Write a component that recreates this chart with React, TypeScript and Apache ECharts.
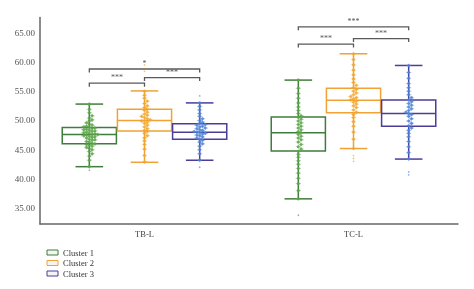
import React, { useEffect, useRef } from "react";
import * as echarts from "echarts";

const categories = ["TB-L", "TC-L"];
const clusterNames = ["Cluster 1", "Cluster 2", "Cluster 3"];
const boxColors = ["#3f7d3c", "#f0a236", "#4a3d9c"];
const pointColors = ["#5aa447", "#f3a52c", "#4d82d6"];

// [min, Q1, median, Q3, max] per category
const cluster1Box = [[42.1, 46.0, 47.6, 48.8, 52.8], [36.6, 44.8, 47.9, 50.6, 56.9]];
const cluster2Box = [[42.85, 48.2, 50.0, 51.9, 55.05], [45.2, 51.3, 53.45, 55.5, 61.4]];
const cluster3Box = [[43.2, 46.8, 48.0, 49.45, 53.0], [43.4, 49.0, 51.2, 53.5, 59.4]];

const cluster1Outliers = [[41.5], [33.8]];
const cluster2Outliers = [[58.4, 59.5], [44.0, 43.5, 43.0]];
const cluster3Outliers = [[54.2, 54.5, 42.0], [41.8, 41.2, 40.7]];

const cluster1Points = [
  [42.1, 43.2, 43.9, 44.3, 44.7, 45.0, 45.2, 45.4, 45.6, 45.8, 45.9, 46.0, 46.1, 46.3, 46.4, 46.6, 46.7, 46.8, 47.0, 47.1, 47.2, 47.3, 47.4, 47.5, 47.6, 47.6, 47.7, 47.8, 47.9, 48.0, 48.1, 48.2, 48.3, 48.4, 48.5, 48.6, 48.7, 48.8, 48.9, 49.0, 49.2, 49.4, 49.6, 49.9, 50.1, 50.4, 50.8, 51.3, 51.9, 52.8],
  [36.6, 38.0, 39.2, 40.1, 41.0, 41.8, 42.5, 43.1, 43.7, 44.2, 44.7, 45.1, 45.5, 45.9, 46.3, 46.7, 47.0, 47.3, 47.6, 47.9, 48.1, 48.4, 48.7, 49.0, 49.3, 49.6, 49.9, 50.2, 50.5, 50.8, 51.2, 51.7, 52.3, 53.0, 53.8, 54.6, 55.5, 56.9],
];
const cluster2Points = [
  [42.9, 44.0, 45.1, 45.9, 46.5, 47.0, 47.4, 47.8, 48.1, 48.3, 48.6, 48.9, 49.2, 49.5, 49.7, 49.9, 50.0, 50.1, 50.3, 50.5, 50.7, 50.9, 51.1, 51.4, 51.7, 51.9, 52.2, 52.5, 52.9, 53.3, 53.8, 54.3, 55.0],
  [45.2, 46.8, 48.0, 49.0, 49.8, 50.5, 51.0, 51.4, 51.8, 52.2, 52.5, 52.8, 53.1, 53.3, 53.5, 53.7, 53.9, 54.1, 54.4, 54.7, 55.0, 55.3, 55.6, 56.0, 56.5, 57.1, 57.8, 58.6, 59.5, 60.4, 61.4],
];
const cluster3Points = [
  [43.2, 44.3, 45.0, 45.6, 46.0, 46.3, 46.6, 46.8, 47.0, 47.2, 47.4, 47.5, 47.7, 47.8, 47.9, 48.0, 48.1, 48.3, 48.4, 48.6, 48.7, 48.9, 49.0, 49.2, 49.3, 49.5, 49.7, 50.0, 50.3, 50.7, 51.2, 51.8, 52.4, 53.0],
  [43.4, 44.5, 45.5, 46.4, 47.2, 47.8, 48.3, 48.7, 49.1, 49.5, 49.9, 50.3, 50.7, 51.0, 51.2, 51.4, 51.7, 52.0, 52.3, 52.6, 52.9, 53.2, 53.5, 53.9, 54.4, 55.0, 55.6, 56.3, 57.2, 58.2, 59.4],
];

const bracketCategory = [0, 0, 0, 1, 1, 1];
const bracketFrom = [0, 1, 0, 0, 1, 0];
const bracketTo = [1, 2, 2, 1, 2, 2];
const bracketY = [56.37, 57.33, 58.8, 63.05, 64.0, 66.0];
const bracketLabel = ["***", "***", "*", "***", "***", "***"];

const yTicks = [35, 40, 45, 50, 55, 60, 65];

const BOX_FRAC = 0.264;

function swarmSlots(values: number[]): number[] {
  const order = values.map((v, i) => i).sort((a, b) => values[a] - values[b]);
  const slots = new Array(values.length).fill(0);
  const placed: { v: number; k: number }[] = [];
  const cand = [0, 1, -1, 2, -2, 3, -3, 4, -4, 5, -5];
  for (const i of order) {
    const v = values[i];
    for (const k of cand) {
      if (!placed.some((p) => p.k === k && Math.abs(p.v - v) < 0.5)) {
        slots[i] = k;
        placed.push({ v, k });
        break;
      }
    }
  }
  return slots;
}

export default function App() {
  const ref = useRef<HTMLDivElement>(null);
  useEffect(() => {
    if (!ref.current) return;
    const chart = echarts.init(ref.current, undefined, { renderer: "svg" });
    const boxes = [cluster1Box, cluster2Box, cluster3Box];
    const outs = [cluster1Outliers, cluster2Outliers, cluster3Outliers];
    const pts = [cluster1Points, cluster2Points, cluster3Points];

    const centerX = (api: any, cat: number, ci: number) => {
      const cx0 = api.coord([cat, 50])[0];
      const band = api.size([1, 0])[0];
      return cx0 + (ci - 1) * band * BOX_FRAC;
    };

    const series: any[] = [];
    boxes.forEach((b, ci) => {
      series.push({
        name: clusterNames[ci],
        type: "custom",
        itemStyle: { color: boxColors[ci] },
        encode: { x: 0, y: [1, 2, 3, 4, 5] },
        data: b.map((s, cat) => [cat, ...s]),
        z: 2,
        renderItem: (params: any, api: any) => {
          const cat = api.value(0);
          const cx = centerX(api, cat, ci);
          const band = api.size([1, 0])[0];
          const half = (band * BOX_FRAC) / 2 - 0.5;
          const cap = (band * BOX_FRAC) / 4;
          const y = (v: number) => api.coord([cat, v])[1];
          const yMin = y(api.value(1));
          const yQ1 = y(api.value(2));
          const yMed = y(api.value(3));
          const yQ3 = y(api.value(4));
          const yMax = y(api.value(5));
          const st = { stroke: boxColors[ci], lineWidth: 1.5, fill: null };
          return {
            type: "group",
            children: [
              { type: "line", shape: { x1: cx, y1: yMax, x2: cx, y2: yQ3 }, style: st },
              { type: "line", shape: { x1: cx, y1: yQ1, x2: cx, y2: yMin }, style: st },
              { type: "line", shape: { x1: cx - cap, y1: yMax, x2: cx + cap, y2: yMax }, style: st },
              { type: "line", shape: { x1: cx - cap, y1: yMin, x2: cx + cap, y2: yMin }, style: st },
              { type: "rect", shape: { x: cx - half, y: yQ3, width: half * 2, height: yQ1 - yQ3 }, style: { stroke: boxColors[ci], lineWidth: 1.5, fill: "none" } },
              { type: "line", shape: { x1: cx - half, y1: yMed, x2: cx + half, y2: yMed }, style: st },
            ],
          };
        },
      });
    });

    pts.forEach((p, ci) => {
      const data: number[][] = [];
      p.forEach((vals, cat) => {
        const slots = swarmSlots(vals);
        vals.forEach((v, i) => data.push([cat, v, slots[i]]));
      });
      series.push({
        name: clusterNames[ci] + " points",
        type: "custom",
        encode: { x: 0, y: 1 },
        data,
        z: 3,
        renderItem: (params: any, api: any) => {
          const cat = api.value(0);
          const cx = centerX(api, cat, ci) + api.value(2) * 2.8;
          const cy = api.coord([cat, api.value(1)])[1];
          return {
            type: "group",
            children: [
              { type: "line", shape: { x1: cx - 2.6, y1: cy, x2: cx + 2.6, y2: cy }, style: { stroke: pointColors[ci], lineWidth: 0.8, opacity: 0.6 } },
              { type: "line", shape: { x1: cx, y1: cy - 2, x2: cx, y2: cy + 2 }, style: { stroke: pointColors[ci], lineWidth: 0.6, opacity: 0.5 } },
              { type: "circle", shape: { cx, cy, r: 1.5 }, style: { fill: pointColors[ci], opacity: 0.8 } },
            ],
          };
        },
      });
    });

    outs.forEach((o, ci) => {
      const data: number[][] = [];
      o.forEach((vals, cat) => vals.forEach((v) => data.push([cat, v])));
      series.push({
        name: clusterNames[ci] + " outliers",
        type: "custom",
        encode: { x: 0, y: 1 },
        data,
        z: 3,
        renderItem: (params: any, api: any) => {
          const cat = api.value(0);
          const cx = centerX(api, cat, ci);
          const cy = api.coord([cat, api.value(1)])[1];
          return { type: "circle", shape: { cx, cy, r: 0.8 }, style: { fill: pointColors[ci], opacity: 0.7 } };
        },
      });
    });

    series.push({
      name: "brackets",
      type: "custom",
      encode: { x: 0, y: 3 },
      data: bracketY.map((yv, i) => [bracketCategory[i], bracketFrom[i], bracketTo[i], yv]),
      z: 4,
      renderItem: (params: any, api: any) => {
        const cat = api.value(0);
        const x1 = centerX(api, cat, api.value(1));
        const x2 = centerX(api, cat, api.value(2));
        const yy = api.coord([cat, api.value(3)])[1];
        const st = { stroke: "#595959", lineWidth: 1.3 };
        return {
          type: "group",
          children: [
            { type: "polyline", shape: { points: [[x1, yy + 3.5], [x1, yy], [x2, yy], [x2, yy + 3.5]] }, style: { ...st, fill: null } },
            {
              type: "text",
              x: (x1 + x2) / 2,
              y: yy - 1.5,
              style: { text: bracketLabel[params.dataIndex], fill: "#555", font: "8px 'Liberation Serif'", align: "center", verticalAlign: "bottom" },
            },
          ],
        };
      },
    });

    chart.setOption({
      animation: false,
      grid: { left: 40, right: 16, top: 17.5, bottom: 65, containLabel: false },
      legend: {
        orient: "vertical",
        left: 41.5,
        top: 243,
        itemWidth: 11,
        itemHeight: 5,
        itemGap: 1.5,
        textStyle: { fontFamily: "Liberation Serif", fontSize: 8.5, color: "#333" },
        data: clusterNames.map((n, i) => ({
          name: n,
          icon: "rect",
          itemStyle: { color: "#f4f4f4", borderColor: boxColors[i], borderWidth: 1 },
        })),
      },
      xAxis: {
        type: "category",
        data: categories,
        axisTick: { show: false },
        axisLine: { lineStyle: { color: "#666", width: 1.5 } },
        axisLabel: { fontFamily: "Liberation Serif", fontSize: 8.5, color: "#444", margin: 5 },
      },
      yAxis: {
        type: "value",
        min: 32.3,
        max: 67.6,
        splitLine: { show: false },
        axisTick: { show: false },
        axisLine: { show: true, lineStyle: { color: "#666", width: 1.5 } },
        axisLabel: {
          customValues: yTicks,
          formatter: (v: number) => v.toFixed(2),
          fontFamily: "Liberation Serif",
          fontSize: 9,
          color: "#555",
          margin: 5,
        },
      },
      series,
    });
    return () => chart.dispose();
  }, []);
  return <div ref={ref} style={{ position: "fixed", left: 0, top: 0, width: 474, height: 289 }} />;
}
